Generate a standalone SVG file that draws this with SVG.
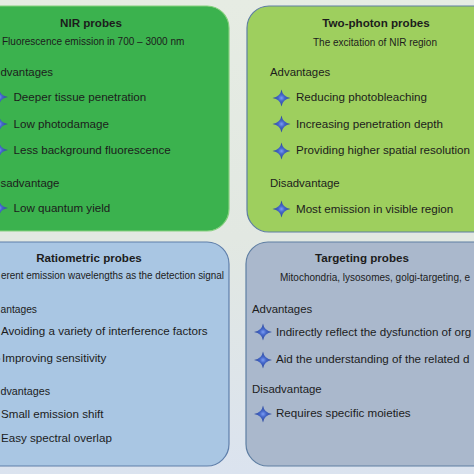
<svg xmlns="http://www.w3.org/2000/svg" width="474" height="474" viewBox="0 0 474 474">
<defs>
<linearGradient id="bg" x1="0" y1="0" x2="0" y2="1">
<stop offset="0" stop-color="#e6ece3"/>
<stop offset="0.5" stop-color="#e2e8e2"/>
<stop offset="1" stop-color="#dbe3ef"/>
</linearGradient>
<radialGradient id="sg" cx="0.5" cy="0.5" r="0.5">
<stop offset="0" stop-color="#7a9cf5"/>
<stop offset="0.35" stop-color="#4466c8"/>
<stop offset="1" stop-color="#2a4596"/>
</radialGradient>
<path id="star" d="M0,-8.5 Q1.2,-1.2 9,0 Q1.2,1.2 0,8.5 Q-1.2,1.2 -9,0 Q-1.2,-1.2 0,-8.5Z" fill="url(#sg)"/>
<style>
text{font-family:"Liberation Sans",Arial,sans-serif;fill:#1c1c1c}
.t{font-size:11.6px;font-weight:bold;text-anchor:middle}
.s{font-size:10px}
.h{font-size:11.4px}
.i{font-size:11.6px}
.c{text-anchor:middle}
</style>
</defs>
<rect x="0" y="0" width="474" height="474" fill="url(#bg)"/>

<g id="nir">
<rect x="-40" y="6" width="269" height="225" rx="22" fill="#3bb24e" stroke="#86d07e" stroke-width="1.2"/>
<text class="t" x="91" y="27">NIR probes</text>
<text class="s" x="2" y="45">Fluorescence emission in 700 – 3000 nm</text>
<text class="h" x="0.5" y="76">dvantages</text>
<use href="#star" x="-1" y="97"/>
<text class="i" x="13.5" y="101">Deeper tissue penetration</text>
<use href="#star" x="-1" y="124"/>
<text class="i" x="13.5" y="128">Low photodamage</text>
<use href="#star" x="-1" y="150"/>
<text class="i" x="13.5" y="154">Less background fluorescence</text>
<text class="h" x="0.5" y="187">sadvantage</text>
<use href="#star" x="-1" y="208"/>
<text class="i" x="13.5" y="212">Low quantum yield</text>
</g>

<g id="twophoton">
<rect x="247" y="6" width="260" height="226" rx="22" fill="#9ecf5e" stroke="#5e7ea2" stroke-width="1.2"/>
<text class="t" x="376" y="27">Two-photon probes</text>
<text class="s c" x="375" y="46">The excitation of NIR region</text>
<text class="h" x="270" y="76">Advantages</text>
<use href="#star" x="281.5" y="98"/>
<text class="i" x="296" y="101">Reducing photobleaching</text>
<use href="#star" x="281.5" y="124"/>
<text class="i" x="296" y="128">Increasing penetration depth</text>
<use href="#star" x="281.5" y="151"/>
<text class="i" x="296" y="154">Providing higher spatial resolution</text>
<text class="h" x="270" y="187">Disadvantage</text>
<use href="#star" x="281.5" y="209"/>
<text class="i" x="296" y="213">Most emission in visible region</text>
</g>

<g id="ratiometric">
<rect x="-40" y="242" width="269" height="224" rx="22" fill="#a9c6e3" stroke="#5e7eaa" stroke-width="1.2"/>
<text class="t" x="89" y="262">Ratiometric probes</text>
<text class="s" x="1" y="279" textLength="223" lengthAdjust="spacingAndGlyphs">erent emission wavelengths as the detection signal</text>
<text class="h" x="0.5" y="313" textLength="36.5" lengthAdjust="spacingAndGlyphs">antages</text>
<use href="#star" x="-12" y="332"/>
<text class="i" x="1" y="335">Avoiding a variety of interference factors</text>
<use href="#star" x="-8" y="359"/>
<text class="i" x="2" y="362">Improving sensitivity</text>
<text class="h" x="0.5" y="395" textLength="49.5" lengthAdjust="spacingAndGlyphs">dvantages</text>
<use href="#star" x="-12" y="415"/>
<text class="i" x="1" y="418">Small emission shift</text>
<use href="#star" x="-12" y="439"/>
<text class="i" x="1" y="442">Easy spectral overlap</text>
</g>

<g id="targeting">
<rect x="246" y="242" width="260" height="224" rx="22" fill="#aab8cc" stroke="#5e7ea2" stroke-width="1.2"/>
<text class="t" x="362" y="262">Targeting probes</text>
<text class="s" x="280" y="281">Mitochondria, lysosomes, golgi-targeting, e</text>
<text class="h" x="252" y="313">Advantages</text>
<use href="#star" x="263" y="332"/>
<text class="i" x="276" y="336">Indirectly reflect the dysfunction of org</text>
<use href="#star" x="263" y="360"/>
<text class="i" x="276" y="363">Aid the understanding of the related d</text>
<text class="h" x="252" y="393">Disadvantage</text>
<use href="#star" x="263" y="414"/>
<text class="i" x="276" y="417">Requires specific moieties</text>
</g>
</svg>
